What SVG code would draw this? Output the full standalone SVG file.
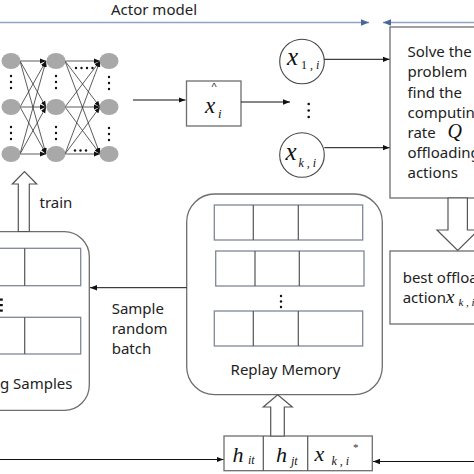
<svg xmlns="http://www.w3.org/2000/svg" width="474" height="474" viewBox="0 0 474 474">
<defs>
<style>
.t{font-family:"Noto Sans","Open Sans",sans-serif;font-size:15px;fill:#222}
.m{font-family:"Liberation Serif","Times New Roman",serif;font-style:italic;fill:#111}
.box{fill:#fff;stroke:#6e6e6e;stroke-width:1.3}
.cell{fill:#fff;stroke:#7f8797;stroke-width:1.3}
.div{stroke:#555;stroke-width:1.2}
.ln{stroke:#111;stroke-width:1;fill:none}
.nl{stroke:#333;stroke-width:0.8;fill:none}
.nd{fill:#a8a8a8}
.hol{fill:#fff;stroke:#555;stroke-width:1.2}
.dot{fill:#111}
</style>
<marker id="ah" viewBox="0 0 10 10" refX="10" refY="5" markerWidth="7" markerHeight="7" markerUnits="userSpaceOnUse" orient="auto"><path d="M0,1 L10,5 L0,9 z" fill="#111"/></marker>
<marker id="an" viewBox="0 0 10 10" refX="10" refY="5" markerWidth="6" markerHeight="6" markerUnits="userSpaceOnUse" orient="auto"><path d="M0,1 L10,5 L0,9 z" fill="#111"/></marker>
<marker id="ab" viewBox="0 0 10 10" refX="10" refY="5" markerWidth="8" markerHeight="8" markerUnits="userSpaceOnUse" orient="auto"><path d="M0,1 L10,5 L0,9 z" fill="#4a6799"/></marker>
</defs>
<rect width="474" height="474" fill="#fff"/>

<g id="actor-label">
<text class="t" x="154" y="14.5" text-anchor="middle" font-size="14.5">Actor model</text>
</g>

<g id="neural-network">
<g class="nl">
<line x1="20" y1="61" x2="46" y2="61" marker-end="url(#an)"/>
<line x1="20" y1="61" x2="46" y2="107" marker-end="url(#an)"/>
<line x1="20" y1="61" x2="46" y2="154" marker-end="url(#an)"/>
<line x1="20" y1="107" x2="46" y2="61" marker-end="url(#an)"/>
<line x1="20" y1="107" x2="46" y2="107" marker-end="url(#an)"/>
<line x1="20" y1="107" x2="46" y2="154" marker-end="url(#an)"/>
<line x1="20" y1="154" x2="46" y2="61" marker-end="url(#an)"/>
<line x1="20" y1="154" x2="46" y2="107" marker-end="url(#an)"/>
<line x1="20" y1="154" x2="46" y2="154" marker-end="url(#an)"/>
<line x1="65" y1="61" x2="100" y2="61" marker-end="url(#an)"/>
<line x1="65" y1="61" x2="100" y2="107" marker-end="url(#an)"/>
<line x1="65" y1="61" x2="100" y2="154" marker-end="url(#an)"/>
<line x1="65" y1="107" x2="100" y2="61" marker-end="url(#an)"/>
<line x1="65" y1="107" x2="100" y2="107" marker-end="url(#an)"/>
<line x1="65" y1="107" x2="100" y2="154" marker-end="url(#an)"/>
<line x1="65" y1="154" x2="100" y2="61" marker-end="url(#an)"/>
<line x1="65" y1="154" x2="100" y2="107" marker-end="url(#an)"/>
<line x1="65" y1="154" x2="100" y2="154" marker-end="url(#an)"/>
</g>
<ellipse class="nd" cx="11" cy="61" rx="9.5" ry="8"/>
<ellipse class="nd" cx="11" cy="107" rx="9.5" ry="8"/>
<ellipse class="nd" cx="11" cy="154" rx="9.5" ry="8"/>
<ellipse class="nd" cx="56" cy="61" rx="9.5" ry="8"/>
<ellipse class="nd" cx="56" cy="107" rx="9.5" ry="8"/>
<ellipse class="nd" cx="56" cy="154" rx="9.5" ry="8"/>
<ellipse class="nd" cx="109" cy="61" rx="9.5" ry="8"/>
<ellipse class="nd" cx="109" cy="107" rx="9.5" ry="8"/>
<ellipse class="nd" cx="109" cy="154" rx="9.5" ry="8"/>
<g class="dot">
<circle cx="11" cy="76" r="1.2"/><circle cx="11" cy="82" r="1.2"/><circle cx="11" cy="88" r="1.2"/>
<circle cx="11" cy="127" r="1.2"/><circle cx="11" cy="133" r="1.2"/><circle cx="11" cy="139" r="1.2"/>
<circle cx="56" cy="76" r="1.2"/><circle cx="56" cy="82" r="1.2"/><circle cx="56" cy="88" r="1.2"/>
<circle cx="56" cy="127" r="1.2"/><circle cx="56" cy="133" r="1.2"/><circle cx="56" cy="139" r="1.2"/>
<circle cx="109" cy="77" r="1.2"/><circle cx="109" cy="83" r="1.2"/><circle cx="109" cy="89" r="1.2"/>
<circle cx="109" cy="128" r="1.2"/><circle cx="109" cy="134" r="1.2"/><circle cx="109" cy="140" r="1.2"/>
<circle cx="76" cy="68" r="1.2"/><circle cx="81.5" cy="68" r="1.2"/><circle cx="87" cy="68" r="1.2"/><circle cx="92.5" cy="68" r="1.2"/>
<circle cx="75" cy="150.5" r="1.2"/><circle cx="80.5" cy="150.5" r="1.2"/><circle cx="86" cy="150.5" r="1.2"/>
</g>
</g>

<g id="x-hat">
<rect class="box" x="186.5" y="81" width="54.5" height="45"/>
<text class="m" x="205" y="113" font-size="23">x</text>
<text x="211.5" y="91" font-family="Liberation Sans,sans-serif" font-size="11" fill="#333">^</text>
<text class="m" x="218" y="118" font-size="13">i</text>
</g>

<g id="x-1i">
<circle cx="302" cy="61.5" r="22.3" fill="#fff" stroke="#444" stroke-width="1.1"/>
<text class="m" x="287" y="65" font-size="25">x</text>
<text class="m" x="301" y="68.5" font-size="12"><tspan font-style="normal">1</tspan> , i</text>
</g>

<g id="dots-mid">
<circle class="dot" cx="308.7" cy="104" r="1.3"/>
<circle class="dot" cx="308.7" cy="110.5" r="1.3"/>
<circle class="dot" cx="308.7" cy="117" r="1.3"/>
</g>

<g id="x-ki">
<circle cx="302" cy="155" r="22.3" fill="#fff" stroke="#444" stroke-width="1.1"/>
<text class="m" x="285.5" y="159.5" font-size="25">x</text>
<text class="m" x="298.5" y="167" font-size="12">k , i</text>
</g>

<g id="solve">
<rect class="box" x="390" y="27" width="110" height="171"/>
<text class="t" x="407.5" y="57.3">Solve the</text>
<text class="t" x="407.5" y="77.3">problem</text>
<text class="t" x="407.5" y="97.5">find the</text>
<text class="t" x="407.5" y="117.7">computing</text>
<text class="t" x="407.5" y="137.7">rate <tspan class="m" font-size="20" dx="8">Q</tspan></text>
<text class="t" x="407.5" y="157.7">offloading</text>
<text class="t" x="407.5" y="177.7">actions</text>
</g>

<g id="best-action">
<rect class="box" x="390" y="251" width="110" height="73"/>
<text class="t" x="402.7" y="283">best offloading</text>
<text class="t" x="402.7" y="303">action<tspan class="m" font-size="19">x</tspan><tspan class="m" font-size="11" dx="4" dy="3">k , i</tspan></text>
</g>

<g id="replay-memory">
<rect class="box" x="186.7" y="194" width="195.6" height="200.7" rx="28"/>
<rect class="cell" x="214.3" y="205" width="148.4" height="35"/>
<line class="div" x1="253.3" y1="205" x2="253.3" y2="240"/>
<line class="div" x1="298.3" y1="205" x2="298.3" y2="240"/>
<rect class="cell" x="215.7" y="251" width="148.3" height="35"/>
<line class="div" x1="255" y1="251" x2="255" y2="286"/>
<line class="div" x1="299.3" y1="251" x2="299.3" y2="286"/>
<circle class="dot" cx="281" cy="296" r="1.2"/>
<circle class="dot" cx="281" cy="301.5" r="1.2"/>
<circle class="dot" cx="281" cy="307" r="1.2"/>
<rect class="cell" x="214.3" y="311" width="148.4" height="35"/>
<line class="div" x1="253.3" y1="311" x2="253.3" y2="346"/>
<line class="div" x1="298.3" y1="311" x2="298.3" y2="346"/>
<text class="t" x="285.5" y="374.5" text-anchor="middle">Replay Memory</text>
</g>

<g id="training-samples">
<rect class="box" x="-40" y="231.7" width="129.3" height="178.6" rx="25"/>
<rect class="cell" x="-20" y="248.3" width="100.7" height="37.4"/>
<line class="div" x1="24.7" y1="248.3" x2="24.7" y2="285.7"/>
<rect class="cell" x="-20" y="317.3" width="100.7" height="36.7"/>
<line class="div" x1="24.7" y1="317.3" x2="24.7" y2="354"/>
<rect class="dot" x="0" y="298.5" width="2.8" height="2.2"/>
<rect class="dot" x="0" y="304" width="2.8" height="2.2"/>
<rect class="dot" x="0" y="309.5" width="2.8" height="2.2"/>
<text class="t" x="72.5" y="388.7" text-anchor="end">Training Samples</text>
</g>

<g id="state-strip">
<rect class="box" x="224" y="436" width="148.3" height="34.7"/>
<line class="div" x1="263.3" y1="436" x2="263.3" y2="470.7"/>
<line class="div" x1="307.7" y1="436" x2="307.7" y2="470.7"/>
<text class="m" x="232.5" y="461.7" font-size="22">h</text>
<text class="m" x="248" y="464" font-size="12">it</text>
<text class="m" x="276" y="461.7" font-size="22">h</text>
<text class="m" x="291" y="465" font-size="12">jt</text>
<text class="m" x="314.5" y="461" font-size="22">x</text>
<text class="m" x="331.5" y="465" font-size="12">k , i</text>
<text x="353" y="451" font-family="Liberation Serif,serif" font-size="11" fill="#333">*</text>
</g>

<g id="connectors">
<line x1="0" y1="22.5" x2="369" y2="22.5" stroke="#8fa2c6" stroke-width="1.5" marker-end="url(#ab)"/>
<line x1="474" y1="22.5" x2="383" y2="22.5" stroke="#8fa2c6" stroke-width="1.5" marker-end="url(#ab)"/>
<line class="ln" x1="133" y1="100" x2="185.5" y2="100" marker-end="url(#ah)"/>
<line class="ln" x1="241" y1="102" x2="290" y2="102" marker-end="url(#ah)"/>
<line class="ln" x1="324.3" y1="59.3" x2="389.5" y2="59.3" marker-end="url(#ah)"/>
<line class="ln" x1="324.3" y1="147.7" x2="389.5" y2="147.7" marker-end="url(#ah)"/>
<polygon class="hol" points="448,198 448,230 437,230 457.7,250.5 478.5,230 467.4,230 467.4,198"/>
<polygon class="hol" points="18.3,231.5 18.3,184 12.3,184 24.5,171.7 36.7,184 29.3,184 29.3,231.5"/>
<polygon class="hol" points="270.7,436 270.7,407 263.3,407 277.7,394.7 292.3,407 284.3,407 284.3,436"/>
<line class="ln" x1="186.7" y1="287.7" x2="90" y2="287.7" marker-end="url(#ah)"/>
<line class="ln" x1="0" y1="459.5" x2="223.5" y2="459.5" marker-end="url(#ah)"/>
<line class="ln" x1="474" y1="461.5" x2="373" y2="461.5" marker-end="url(#ah)"/>
<text class="t" x="39.5" y="208.3">train</text>
<text class="t" x="111.7" y="314.3">Sample</text>
<text class="t" x="111.7" y="334.3">random</text>
<text class="t" x="111.7" y="354.3">batch</text>
</g>
</svg>
